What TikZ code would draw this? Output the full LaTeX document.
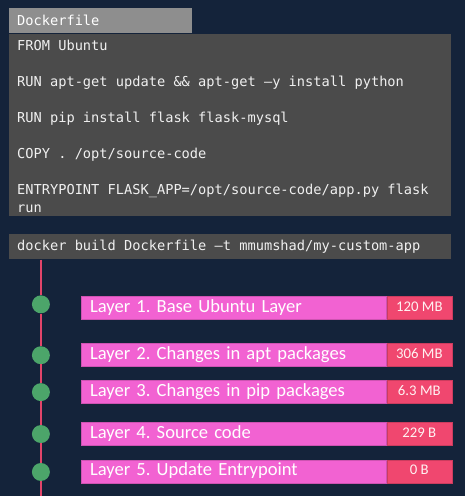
\documentclass[tikz,border=0pt]{standalone}
\usepackage{fontspec}
\setmainfont{Carlito}
\setmonofont{DejaVu Sans Mono}[WordSpace={1,0,0}]
\frenchspacing
\usetikzlibrary{positioning}
\definecolor{bgnavy}{HTML}{14233A}
\definecolor{tabgray}{HTML}{8E8E8E}
\definecolor{codegray}{HTML}{4B4B4B}
\definecolor{layerpink}{HTML}{F262D2}
\definecolor{sizered}{HTML}{F0476F}
\definecolor{spinered}{HTML}{E2456A}
\definecolor{dotgreen}{HTML}{4CA56A}
\tikzset{
  mono/.style={font=\ttfamily\fontsize{13.7pt}{18pt}\selectfont, execute at begin node={\spaceskip=8.25pt\relax},
    align=left, inner xsep=8pt, inner ysep=0pt},
  tab/.style={mono, fill=tabgray, text=white, text width=167pt, minimum height=25pt},
  codebox/.style={mono, fill=codegray, text=white!94!black, text width=427pt, minimum height=183pt},
  cmdbox/.style={mono, fill=codegray, text=white!94!black, text width=427pt, minimum height=25pt},
  spine/.style={draw=spinered, line width=2.2pt},
  dot/.style={circle, fill=dotgreen, minimum size=18pt, inner sep=0pt},
  layerbar/.style={anchor=west, fill=layerpink, draw=layerpink!85!black, line width=0.5pt, text=white,
    font=\fontsize{18.6pt}{22pt}\selectfont, text width=288pt, inner xsep=9pt, inner ysep=0pt,
    text height=13pt, text depth=4pt, minimum height=23pt},
  sizebox/.style={fill=sizered, draw=sizered!85!black, line width=0.5pt, text=white!95!red,
    font=\fontsize{14.8pt}{16pt}\selectfont, minimum width=65pt, inner sep=0pt,
    text height=10pt, text depth=3pt, minimum height=23pt}
}
\begin{document}
\begin{tikzpicture}[x=1pt, y=-1pt, node distance=0pt]
\fill[bgnavy] (0,0) rectangle (466,497);

\node[tab, anchor=north west] (tab) at (9,8) {Dockerfile};
\node[codebox, below right=0pt and 0pt of tab.south west] (code) {\rule{0pt}{13pt}FROM Ubuntu\\[18pt]
RUN apt-get update \&\& apt-get –y install python\\[18pt]
RUN pip install flask flask-mysql\\[18pt]
COPY . /opt/source-code\\[18pt]
ENTRYPOINT FLASK\_APP=/opt/source-code/app.py flask\\
run};
\node[cmdbox, below right=18pt and 0pt of code.south west] (build) {docker build Dockerfile –t mmumshad/my-custom-app};

\coordinate (spineend) at (41,497);
\foreach \dy/\by/\txt/\sz [count=\i] in {305/308.5/Layer 1. Base Ubuntu Layer/120 MB,
    356/355.5/Layer 2. Changes in apt packages/306 MB,
    393/392.5/Layer 3. Changes in pip packages/6.3 MB,
    435/435/Layer 4. Source code/229 B,
    473/472.5/Layer 5. Update Entrypoint/0 B} {
  \node[dot] (dot\i) at (41,\dy) {};
  \node[layerbar] (layer\i) at (81,\by) {\txt};
  \node[sizebox, right=0pt of layer\i] (size\i) {\sz};
}

\draw[spine] (build.south -| dot1) -- (dot1) -- (dot2) -- (dot3) -- (dot4) -- (dot5) -- (spineend);
\end{tikzpicture}
\end{document}
